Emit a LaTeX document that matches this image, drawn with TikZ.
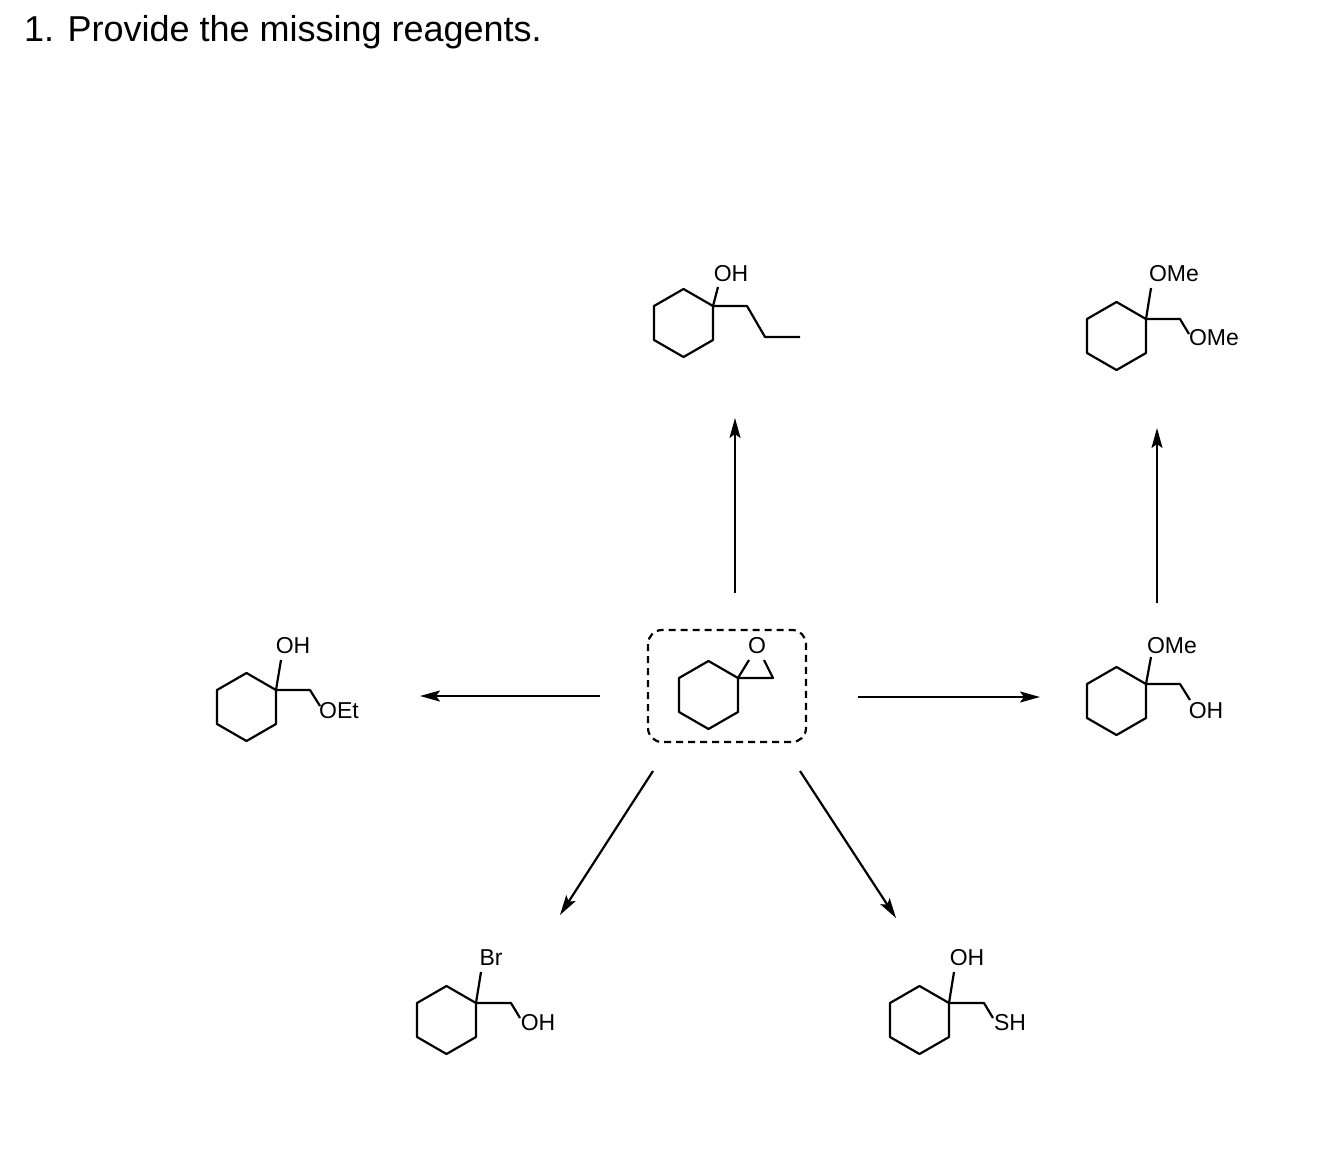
\documentclass[tikz,border=0pt]{standalone}
\usepackage{fontspec}
\setmainfont{Liberation Sans}
\usetikzlibrary{arrows.meta}
\tikzset{bond/.style={line width=2.2pt,line join=round},
 rxn/.style={line width=2.2pt,-{Stealth[length=20pt,width=11pt,inset=4pt]}},
 lab/.style={font=\fontsize{23}{25}\selectfont,inner sep=0pt}}
\newcommand{\hexring}[2]{\draw[bond] (#1,#2) -- ++(-29.5,-17) -- ++(-29.5,17) -- ++(0,34) -- ++(29.5,17) -- ++(29.5,-17) -- cycle;}
\begin{document}
\begin{tikzpicture}[x=1pt,y=-1pt]
\useasboundingbox (0,0) rectangle (1342,1154);
\node[anchor=west,inner sep=0pt,font=\fontsize{36}{40}\selectfont] (title) at (24,32) {1. Provide the missing reagents.};
% center epoxide
\hexring{738}{678}
\draw[bond] (738,678) -- (773,678) -- (764,660);
\draw[bond] (738,678) -- (749,660);
\node[lab] (eo) at (757,646) {O};
\draw[line width=2.2pt,dash pattern=on 7pt off 5pt,rounded corners=14pt] (648,630) rectangle (806,742);
% top product
\hexring{713}{306}
\draw[bond] (713,306) -- (718,287);
\node[lab] (p1oh) at (731,274) {OH};
\draw[bond] (713,306) -- (747,306) -- (765,337) -- (800,337);
% top right
\hexring{1146}{319}
\draw[bond] (1146,319) -- (1151,288);
\node[lab] (p2a) at (1174,274) {OMe};
\draw[bond] (1146,319) -- (1180,319) -- (1189,334);
\node[lab] (p2b) at (1214,338) {OMe};
% right middle
\hexring{1146}{684}
\draw[bond] (1146,684) -- (1151,657);
\node[lab] (p3a) at (1172,646) {OMe};
\draw[bond] (1146,684) -- (1180,684) -- (1190,700);
\node[lab] (p3b) at (1206,711) {OH};
% left
\hexring{276}{690}
\draw[bond] (276,690) -- (281,660);
\node[lab] (p4a) at (293,646) {OH};
\draw[bond] (276,690) -- (310,690) -- (320,706);
\node[lab] (p4b) at (339,711) {OEt};
% Br
\hexring{476}{1003}
\draw[bond] (476,1003) -- (481,972);
\node[lab] (p5a) at (491,958) {Br};
\draw[bond] (476,1003) -- (511,1003) -- (520,1018);
\node[lab] (p5b) at (538,1023) {OH};
% SH
\hexring{949}{1003}
\draw[bond] (949,1003) -- (954,972);
\node[lab] (p6a) at (967,958) {OH};
\draw[bond] (949,1003) -- (984,1003) -- (993,1018);
\node[lab] (p6b) at (1010,1023) {SH};
% arrows
\coordinate (a1) at (735,593); \coordinate (b1) at (735,418);
\coordinate (a2) at (1157,603); \coordinate (b2) at (1157,428);
\coordinate (a3) at (600,696); \coordinate (b3) at (420,696);
\coordinate (a4) at (858,697); \coordinate (b4) at (1040,697);
\coordinate (a5) at (653,771); \coordinate (b5) at (560,915);
\coordinate (a6) at (800,771); \coordinate (b6) at (896,918);
\foreach \i in {1,...,6} \draw[rxn] (a\i) -- (b\i);
\end{tikzpicture}
\end{document}
